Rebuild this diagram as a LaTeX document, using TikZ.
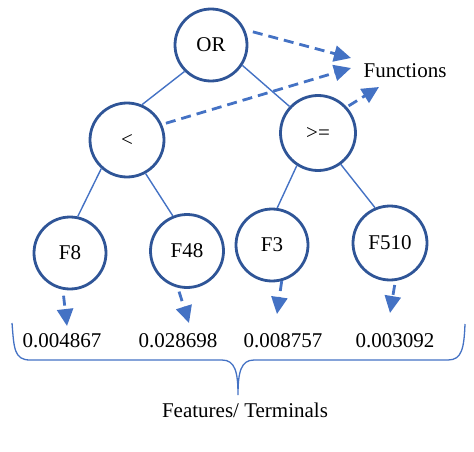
\documentclass[tikz,border=0pt]{standalone}
\usepackage{fontspec}
\setmainfont{Liberation Serif}
\usetikzlibrary{arrows.meta}
\definecolor{cdark}{HTML}{2F5597}
\definecolor{cblue}{HTML}{4472C4}
\begin{document}
\begin{tikzpicture}[x=1pt,y=-1pt,
  treenode/.style={circle,draw=cdark,line width=2.8pt,minimum size=72pt,inner sep=0pt,font=\fontsize{21}{24}\selectfont},
  edge/.style={draw=cblue,line width=1.4pt},
  darrow/.style={draw=cblue,line width=2.8pt,dash pattern=on 10pt off 6pt,-{Triangle[length=17pt,width=16pt]},cblue},
  txt/.style={font=\fontsize{21}{24}\selectfont,inner sep=0pt}]
\useasboundingbox (0,0) rectangle (474,452);
% nodes
\node[treenode] (or) at (211,45) {OR};
\node[treenode,minimum size=74pt] (lt) at (127,140) {\raisebox{-3pt}{<}};
\node[treenode,minimum size=75pt] (ge) at (318,133) {\raisebox{-5pt}{>=}};
\node[treenode] (f8) at (70,253) {\raisebox{-6pt}{F8}};
\node[treenode,minimum size=73pt] (f48) at (187,251) {F48};
\node[treenode] (f3) at (272,245) {\raisebox{-7pt}{F3}};
\node[treenode,minimum size=74pt] (f510) at (390,243) {\raisebox{-4pt}{F510}};
\node[txt] (fn) at (405,71) {Functions};
\node[txt] (n1) at (62,341) {0.004867};
\node[txt] (n2) at (178,341) {0.028698};
\node[txt] (n3) at (283,341) {0.008757};
\node[txt] (n4) at (395,341) {0.003092};
\node[txt] (ft) at (245,410) {Features/ Terminals};
% tree edges
\draw[edge] (or.225) -- (lt.67);
\draw[edge] (or.-33) -- (ge.137);
\draw[edge] (lt.228) -- (f8.78);
\draw[edge] (lt.299) -- (f48.112);
\draw[edge] (ge.237) -- (f3.82);
\draw[edge] (ge.-54) -- (f510.113);
% dashed arrows to Functions
\coordinate (fa) at (351,58);
\coordinate (fb) at (351,68);
\coordinate (fc) at (379,87);
\draw[darrow,shorten <=8pt] (or.24) -- (fa);
\draw[darrow,shorten <=4pt] (lt.24) -- (fb);
\draw[darrow,shorten <=2pt] (ge.42) -- (fc);
% dashed arrows to values
\coordinate (ta) at (67,326);
\coordinate (tb) at (189,323);
\coordinate (tc) at (277,314);
\coordinate (td) at (390,313);
\draw[darrow,shorten <=6pt] (f8.-101) -- (ta);
\draw[darrow,shorten <=4pt] (f48.-104) -- (tb);
\draw[darrow,shorten <=0pt] (f3.-75) -- (tc);
\draw[darrow,shorten <=4pt] (f510.-82) -- (td);
% brace
\draw[cblue,line width=1.3pt] (12,323) .. controls (14,348) and (14,360) .. (30,360)
  -- (222,360) .. controls (235,360) and (238,372) .. (238,395)
  .. controls (238,372) and (241,360) .. (254,360)
  -- (448,360) .. controls (462,360) and (464,348) .. (465,324);
\end{tikzpicture}
\end{document}
